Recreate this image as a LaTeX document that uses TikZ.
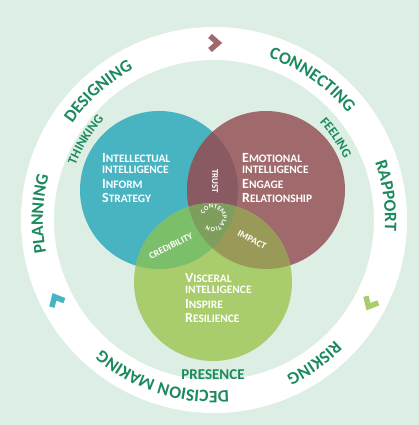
\documentclass[tikz,border=0pt]{standalone}
\usepackage{fontspec}
\setmainfont{Carlito}
\usetikzlibrary{decorations.text}

\definecolor{bgmint}{HTML}{DDEEE4}
\definecolor{ringgreen}{HTML}{1B8A5C}
\definecolor{tealc}{HTML}{48B4C2}
\definecolor{maroonc}{HTML}{A06A6D}
\definecolor{limec}{HTML}{A9CD6C}
\definecolor{trustc}{HTML}{8A5A63}
\definecolor{credc}{HTML}{7CBF6A}
\definecolor{impactc}{HTML}{9A9A58}
\definecolor{corec}{HTML}{7E9E5E}

\newcommand{\ringfont}{\bfseries\fontsize{17.5}{17.5}\selectfont\color{ringgreen}}
\newcommand{\innerfont}{\bfseries\fontsize{13}{13}\selectfont\color{ringgreen}}
\newcommand{\corefont}{\bfseries\fontsize{6.5}{6.5}\selectfont\color{white}}
\newcommand{\capsc}[2]{{\fontsize{14}{12}\selectfont #1}#2}

\tikzset{
  ringword/.style={decoration={text along path, text align=center, text={|\ringfont|#1}}, postaction={decorate}},
  innerword/.style={decoration={text along path, text align=center, text={|\innerfont|#1}}, postaction={decorate}},
  chev/.style={line width=5.5pt},
  circtext/.style={align=left, anchor=north west, inner sep=0pt, text=white, font=\bfseries\fontsize{11.4}{11.5}\selectfont},
  lbl/.style={inner sep=0pt, text=white, font=\bfseries\fontsize{9}{9}\selectfont},
}

\begin{document}
\begin{tikzpicture}[x=1pt, y=1pt]
    \fill[bgmint] (0,0) rectangle (419,425);
    \useasboundingbox (0,0) rectangle (419,425);

    \coordinate (ctr) at (214,205);
    \coordinate (intel) at (159,235);
    \coordinate (emot) at (266,235);
    \coordinate (visc) at (213,143);

    % white band
    \fill[white, even odd rule] (ctr) circle[radius=193] (ctr) circle[radius=160];

    % three circles and their overlaps
    \fill[tealc] (intel) circle[radius=79];
    \fill[maroonc] (emot) circle[radius=79];
    \fill[limec] (visc) circle[radius=79];
    \begin{scope}
        \clip (intel) circle[radius=79];
        \fill[trustc] (emot) circle[radius=79];
        \fill[credc] (visc) circle[radius=79];
    \end{scope}
    \begin{scope}
        \clip (emot) circle[radius=79];
        \fill[impactc] (visc) circle[radius=79];
        \clip (intel) circle[radius=79];
        \fill[corec] (visc) circle[radius=79];
    \end{scope}

    % words on the band, clockwise
    \begin{scope}[shift={(ctr)}]
        \path[ringword=DESIGNING] (162:171) arc[start angle=162, end angle=102, radius=171];
        \path[ringword=CONNECTING] (85:171) arc[start angle=85, end angle=25, radius=171];
        \path[ringword=RAPPORT] (38:171) arc[start angle=38, end angle=-22, radius=171];
        \path[ringword=RISKING] (-25:171) arc[start angle=-25, end angle=-85, radius=171];
        \path[ringword=DECISION MAKING] (287:171) arc[start angle=287, end angle=217, radius=171];
        \path[ringword=PLANNING] (208:171) arc[start angle=208, end angle=148, radius=171];
        \path[innerword=THINKING] (173:149) arc[start angle=173, end angle=123, radius=149];
        \path[innerword=FEELING] (59:144) arc[start angle=59, end angle=9, radius=144];

        \draw[chev, maroonc, shift={(90:177)}, rotate=0] (-4,7) -- (4,0) -- (-4,-7);
        \draw[chev, tealc, shift={(207:177)}, rotate=117] (-4,7) -- (4,0) -- (-4,-7);
        \draw[chev, limec, shift={(-28:177)}, rotate=-118] (-4,7) -- (4,0) -- (-4,-7);
    \end{scope}

    \node[font=\bfseries\fontsize{15}{15}\selectfont, text=ringgreen, inner sep=0pt] (presence) at (213,50) {PRESENCE};

    % texts in the circles
    \node[circtext] (inteltxt) at (102,272) {\capsc{I}{NTELLECTUAL}\\INTELLIGENCE\\[3pt]\capsc{I}{NFORM}\\[3pt]\capsc{S}{TRATEGY}};
    \node[circtext] (emottxt) at (242,272) {\capsc{E}{MOTIONAL}\\INTELLIGENCE\\[3pt]\capsc{E}{NGAGE}\\[3pt]\capsc{R}{ELATIONSHIP}};
    \node[circtext] (visctxt) at (185,152) {\capsc{V}{ISCERAL}\\INTELLIGENCE\\[3pt]\capsc{I}{NSPIRE}\\[3pt]\capsc{R}{ESILIENCE}};

    \node[lbl, rotate=-90] (trust) at (215,244) {TRUST};
    \node[lbl, font=\bfseries\fontsize{9.5}{9.5}\selectfont, rotate=27] (cred) at (171,179) {CREDIBILITY};
    \node[lbl, font=\bfseries\fontsize{9.5}{9.5}\selectfont, rotate=-27] (impact) at (252,185) {IMPACT};
    \begin{scope}[shift={(213,207)}]
        \path[decoration={text along path, text align=center, text={|\corefont|CONTEMPLATION}}, postaction={decorate}]
            (190:9.5) arc[start angle=190, end angle=-160, radius=9.5];
    \end{scope}
\end{tikzpicture}
\end{document}
